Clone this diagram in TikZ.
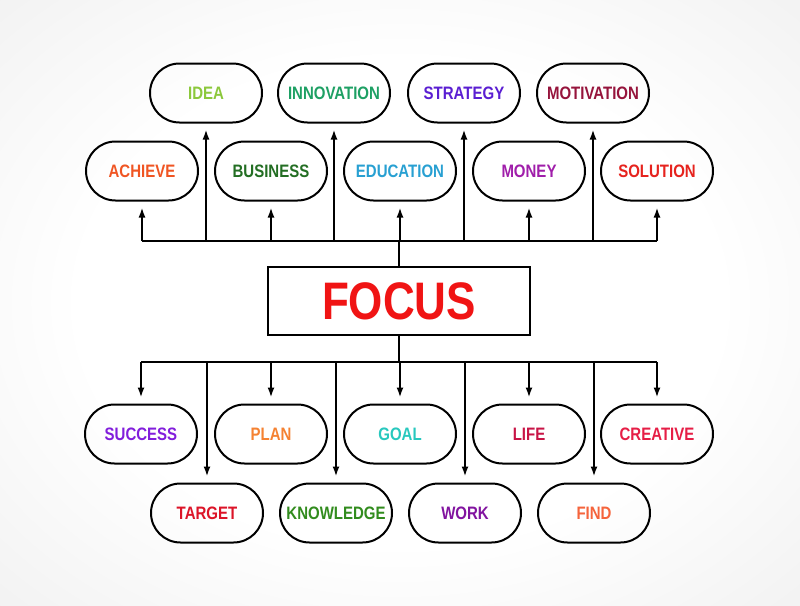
\documentclass[tikz,border=0pt]{standalone}
\usepackage{fontspec}
\setmainfont{Liberation Sans}
\usetikzlibrary{positioning,shapes.misc,arrows.meta}

\definecolor{cAchieve}{RGB}{240,85,35}
\definecolor{cBusiness}{RGB}{35,110,35}
\definecolor{cEducation}{RGB}{40,160,210}
\definecolor{cMoney}{RGB}{160,30,170}
\definecolor{cSolution}{RGB}{230,35,30}
\definecolor{cIdea}{RGB}{140,200,60}
\definecolor{cInnovation}{RGB}{30,160,100}
\definecolor{cStrategy}{RGB}{90,30,210}
\definecolor{cMotivation}{RGB}{150,20,60}
\definecolor{cSuccess}{RGB}{130,30,220}
\definecolor{cPlan}{RGB}{245,130,50}
\definecolor{cGoal}{RGB}{40,200,190}
\definecolor{cLife}{RGB}{200,20,70}
\definecolor{cCreative}{RGB}{230,30,70}
\definecolor{cTarget}{RGB}{220,20,40}
\definecolor{cKnowledge}{RGB}{50,140,30}
\definecolor{cWork}{RGB}{130,20,160}
\definecolor{cFind}{RGB}{245,100,60}
\definecolor{cFocus}{RGB}{240,20,20}

\newcommand{\tall}[1]{\scalebox{1}[1.2]{#1}}

\pgfdeclareradialshading{paper}{\pgfpoint{0bp}{0bp}}{color(0bp)=(white); color(20bp)=(white); color(45bp)=(black!8); color(72bp)=(black!13)}

\begin{document}
\begin{tikzpicture}[x=1pt,y=-1pt]
\tikzstyle{word}=[draw=black,line width=2pt,rounded rectangle,minimum width=112pt,minimum height=59pt,inner sep=0pt,font=\fontsize{15}{18}\selectfont\bfseries]
\tikzstyle{link}=[line width=1.8pt]
\tikzstyle{arr}=[line width=1.8pt,-{Latex[length=10pt,width=7pt]},shorten >=6pt]
% background
\shade[shading=paper] (0,0) rectangle (800,605);
\useasboundingbox (0,0) rectangle (800,605);
% centre
\node [draw=black,line width=2pt,minimum width=262pt,minimum height=68pt,inner sep=0pt,text=cFocus,font=\fontsize{44}{50}\selectfont\bfseries] (focus) at (399,301) {\tall{FOCUS}};
\coordinate (upbus) at (400,241);
\coordinate (downbus) at (400,362);
% upper words
\node [word,text=cIdea] (idea) at (206,93) {\tall{IDEA}};
\node [word,text=cInnovation] (innovation) at (334,93) {\tall{INNOVATION}};
\node [word,text=cStrategy] (strategy) at (464,93) {\tall{STRATEGY}};
\node [word,text=cMotivation] (motivation) at (593,93) {\tall{MOTIVATION}};
\node [word,text=cAchieve] (achieve) at (142,171) {\tall{ACHIEVE}};
\node [word,text=cBusiness] (business) at (271,171) {\tall{BUSINESS}};
\node [word,text=cEducation] (education) at (400,171) {\tall{EDUCATION}};
\node [word,text=cMoney] (money) at (529,171) {\tall{MONEY}};
\node [word,text=cSolution] (solution) at (657,171) {\tall{SOLUTION}};
% lower words
\node [word,text=cSuccess] (success) at (141,434) {\tall{SUCCESS}};
\node [word,text=cPlan] (plan) at (271,434) {\tall{PLAN}};
\node [word,text=cGoal] (goal) at (400,434) {\tall{GOAL}};
\node [word,text=cLife] (life) at (529,434) {\tall{LIFE}};
\node [word,text=cCreative] (creative) at (657,434) {\tall{CREATIVE}};
\node [word,text=cTarget] (target) at (207,513) {\tall{TARGET}};
\node [word,text=cKnowledge] (knowledge) at (336,513) {\tall{KNOWLEDGE}};
\node [word,text=cWork] (work) at (465,513) {\tall{WORK}};
\node [word,text=cFind] (find) at (594,513) {\tall{FIND}};
% upper tree
\draw [link] (focus.north) -- (focus.north |- upbus);
\draw [link] (achieve |- upbus) -- (solution |- upbus);
\draw [arr] (achieve |- upbus) -- (achieve.south);
\draw [arr] (business |- upbus) -- (business.south);
\draw [arr] (education |- upbus) -- (education.south);
\draw [arr] (money |- upbus) -- (money.south);
\draw [arr] (solution |- upbus) -- (solution.south);
\draw [arr] (idea |- upbus) -- (idea.south);
\draw [arr] (innovation |- upbus) -- (innovation.south);
\draw [arr] (strategy |- upbus) -- (strategy.south);
\draw [arr] (motivation |- upbus) -- (motivation.south);
% lower tree
\draw [link] (focus.south) -- (focus.south |- downbus);
\draw [link] (success |- downbus) -- (creative |- downbus);
\draw [arr] (success |- downbus) -- (success.north);
\draw [arr] (plan |- downbus) -- (plan.north);
\draw [arr] (goal |- downbus) -- (goal.north);
\draw [arr] (life |- downbus) -- (life.north);
\draw [arr] (creative |- downbus) -- (creative.north);
\draw [arr] (target |- downbus) -- (target.north);
\draw [arr] (knowledge |- downbus) -- (knowledge.north);
\draw [arr] (work |- downbus) -- (work.north);
\draw [arr] (find |- downbus) -- (find.north);
\end{tikzpicture}
\end{document}
